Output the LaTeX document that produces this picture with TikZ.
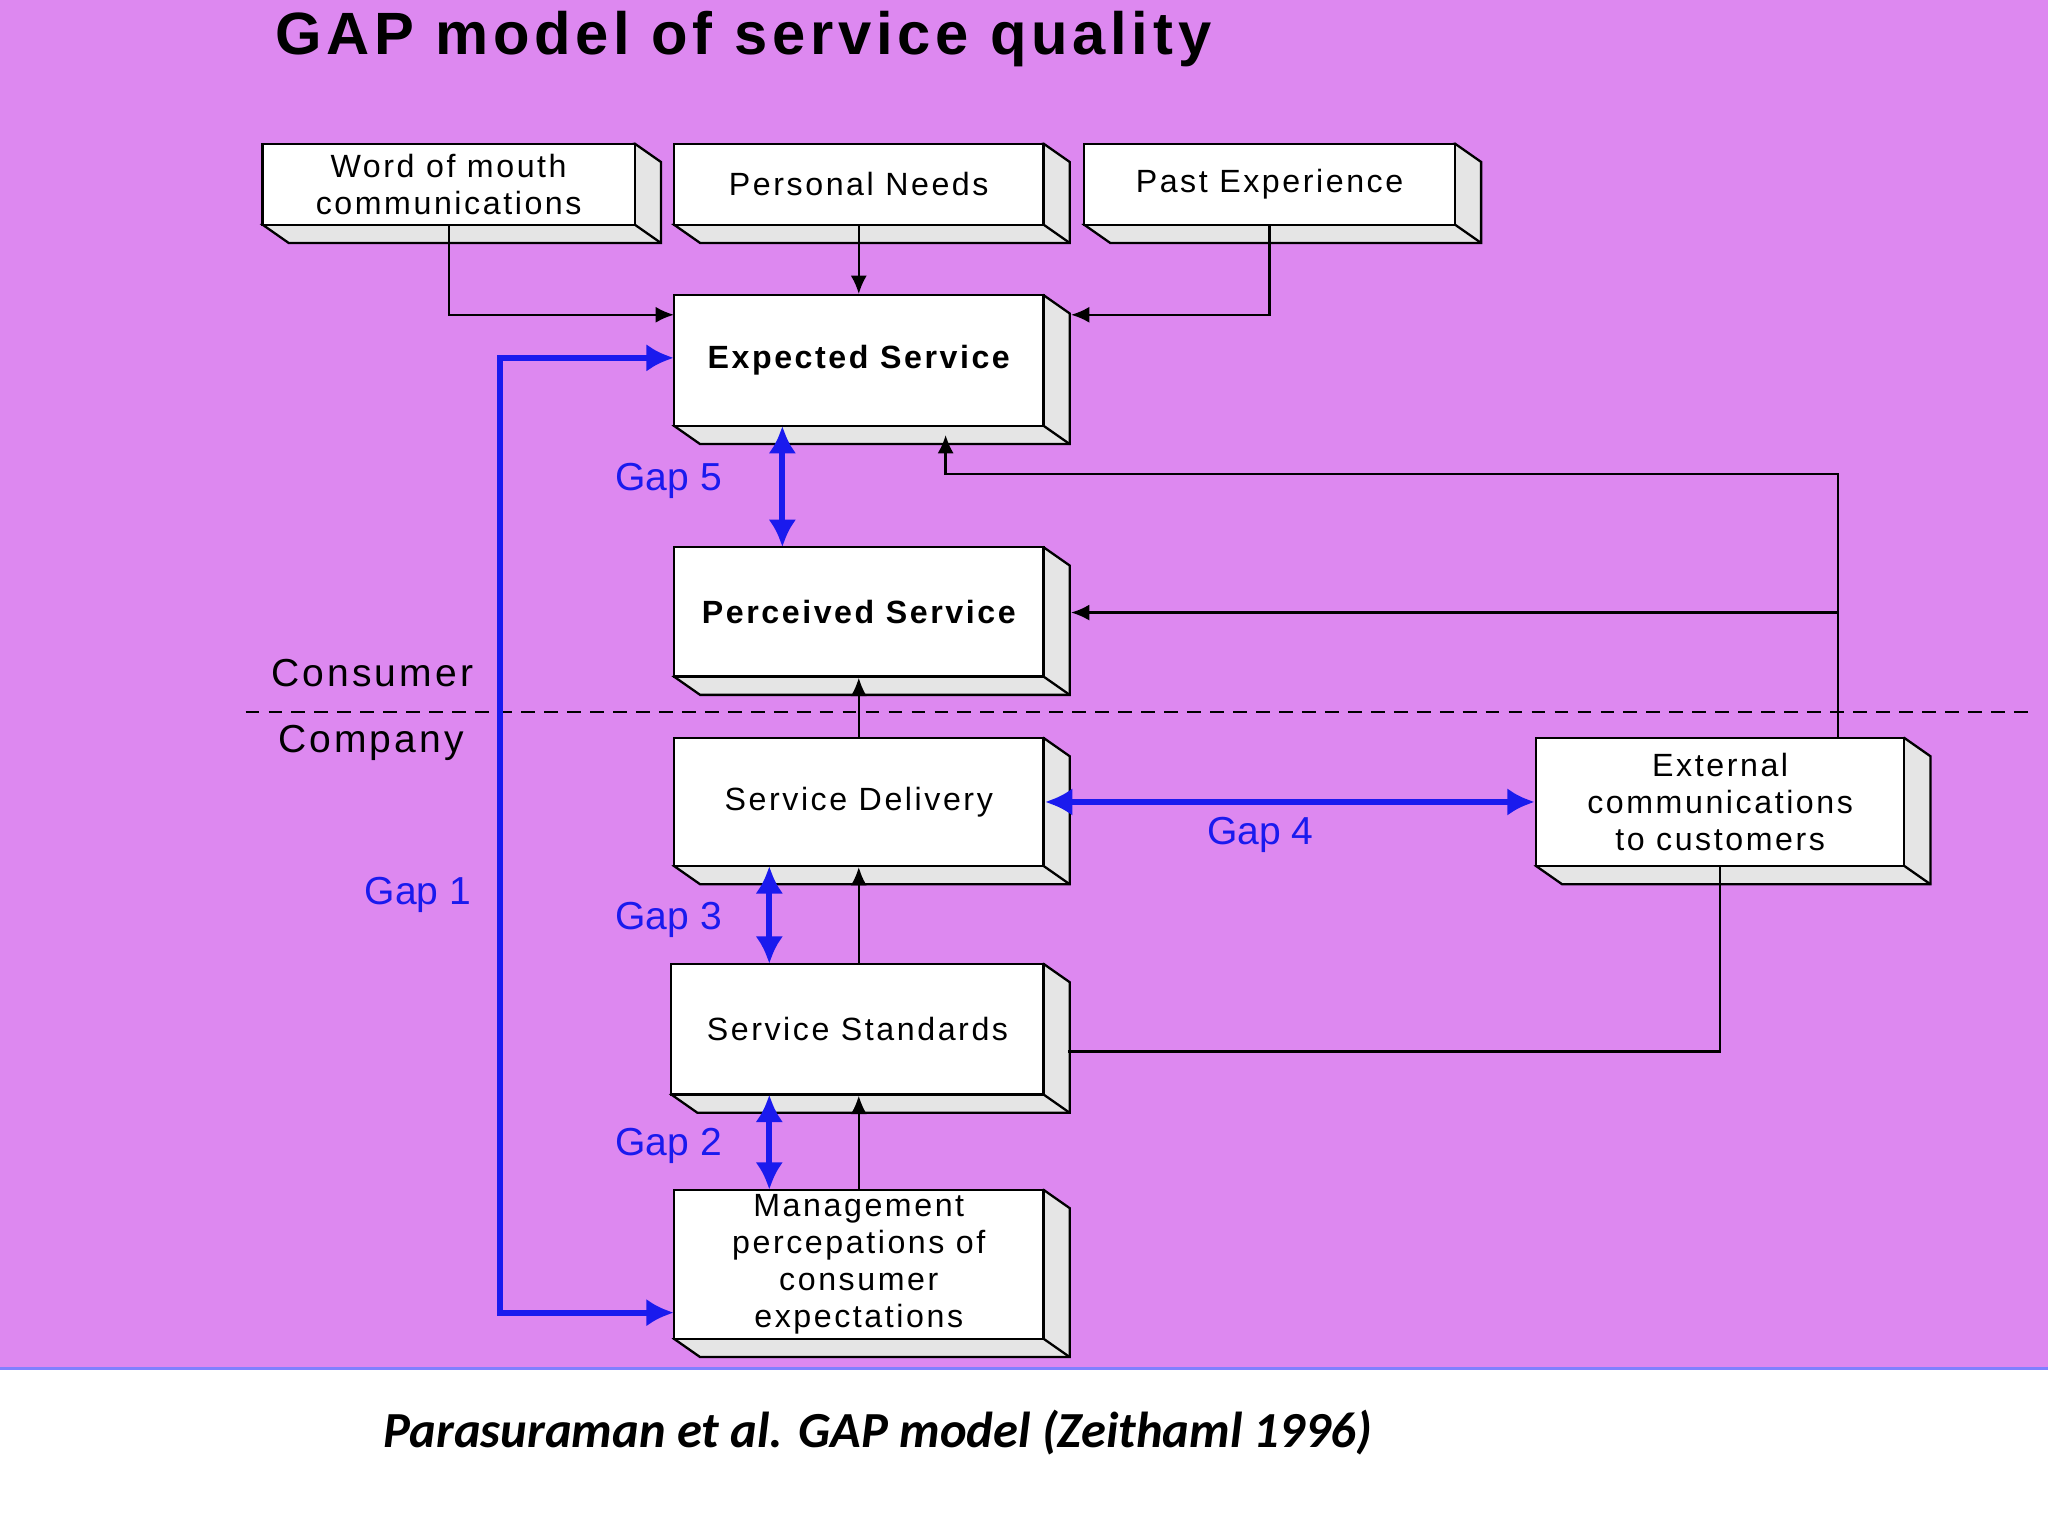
\documentclass[tikz,border=0pt]{standalone}
\usepackage{fontspec}
\setmainfont{Liberation Sans}
\newfontfamily\boxf[LetterSpace=8]{Liberation Sans}
\newfontfamily\capf{Carlito}
\usetikzlibrary{arrows.meta,calc}
\definecolor{bg}{HTML}{DD88F0}
\definecolor{gapblue}{HTML}{1A1AEE}
\newcommand\bx[7]{%
 \coordinate (#1-c) at (#2,#3);
 \draw[side] ($(#1-c)+(#4/2,-#5/2)$) -- ++(20,14) -- ++(0,#5) -- ++(-#4,0) -- ++(-20,-14) -- cycle;
 \draw[side] ($(#1-c)+(#4/2,#5/2)$) -- ++(20,14);
 \node[box,minimum width=#4*0.01cm,minimum height=#5*0.01cm,#7] (#1) at (#1-c) {#6};}
\begin{document}
\begin{tikzpicture}[x=0.01cm,y=-0.01cm,
 box/.style={draw,fill=white,line width=0.5pt,inner sep=0pt,align=center,font=\boxf\fontsize{7}{8}\selectfont},
 side/.style={draw,fill=gray!20,line width=0.5pt},
 con/.style={line width=0.5pt,-{Latex[length=4pt,width=3.5pt]}},
 gap/.style={draw=gapblue,line width=1.3pt,{Latex[length=6pt,width=6pt]}-{Latex[length=6pt,width=6pt]}},
 glab/.style={text=gapblue,font=\fontsize{8.5}{10}\selectfont},
 lab/.style={font=\boxf\fontsize{8.5}{10}\selectfont}]
\useasboundingbox (0,0) rectangle (1568,1176);
\fill[bg] (0,0) rectangle (1568,1048);
\fill[white] (0,1048) rectangle (1568,1176);
\draw[blue!50,line width=0.6pt] (0,1048) -- (1568,1048);
\node[font=\bfseries\fontsize{13}{15}\selectfont] (title) at (569,30) {\addfontfeature{LetterSpace=8}GAP model of service quality};
\node[font=\capf\bfseries\itshape\fontsize{11}{13}\selectfont] (cap) at (672,1097) {Parasuraman et al. GAP model (Zeithaml 1996)};
\bx{wom}{343.5}{141}{285}{62}{Word of mouth\\communications}{}
\bx{pn}{657.5}{141}{283}{62}{Personal Needs}{}
\bx{pe}{972}{141}{284}{62}{Past Experience}{}
\bx{es}{657.5}{276}{283}{100}{\bfseries Expected Service}{}
\bx{ps}{657.5}{468.5}{283}{99}{\bfseries Perceived Service}{}
\bx{sd}{657.5}{614}{283}{98}{Service Delivery}{}
\bx{ec}{1317}{614}{282}{98}{External\\communications\\to customers}{}
\bx{ss}{656.5}{788}{285}{100}{Service Standards}{}
\bx{mp}{657.5}{968}{283}{114}{Management\\percepations of\\consumer\\expectations}{}
\draw[dash pattern=on 3pt off 2pt,line width=0.5pt] (188,545) -- (1558,545);
\node[lab] (cons) at (285,515) {Consumer};
\node[lab] (comp) at (284,569) {Company};
\coordinate (wa) at (516,241); \coordinate (pa) at (820,241);
\draw[con] (wom.south) |- (wa);
\draw[con] (pn.south) -- (es.north);
\draw[con] (pe.south) |- (pa);
\coordinate (g1a) at (516,274); \coordinate (g1b) at (516,1005);
\draw[gap] (g1a) -| (383,640) |- (g1b);
\draw[gap] (599,326) -- (599,419);
\coordinate (g4a) at (800,614);
\draw[gap] (g4a) -- (ec.west);
\draw[gap] (589,663) -- (589,738);
\draw[gap] (589,838) -- (589,911);
\coordinate (ect) at (1407,565);
\draw[con] (ect) |- (724,363) -- (724,333);
\draw[con] (1407,469) -- (820,469);
\draw[con] (sd.north) -- (ps.south);
\draw[con] (ss.north -| sd.south) -- (sd.south);
\draw[line width=0.5pt] (ec.south) |- (818,805);
\draw[con] (mp.north) -- (mp.north |- ss.south);
\node[glab] (l5) at (512,368) {Gap 5};
\node[glab] (l1) at (320,685) {Gap 1};
\node[glab] (l4) at (965,639) {Gap 4};
\node[glab] (l3) at (512,704) {Gap 3};
\node[glab] (l2) at (512,877) {Gap 2};
\end{tikzpicture}
\end{document}
